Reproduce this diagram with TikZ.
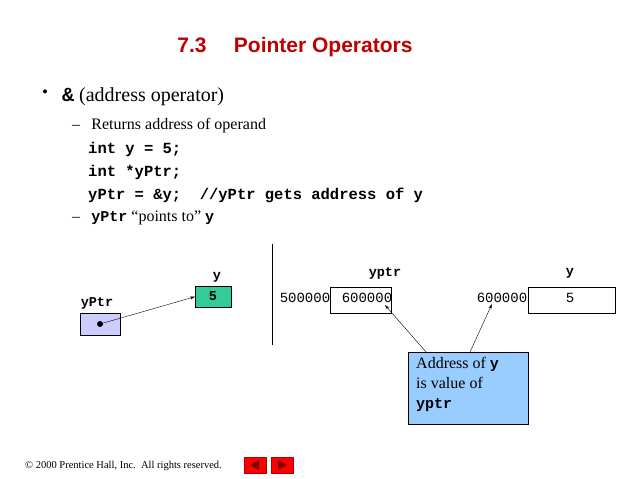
\documentclass[tikz,border=0pt]{standalone}
\usepackage{fontspec}
\usetikzlibrary{arrows.meta}
\setmainfont{Liberation Serif}
\setsansfont{Liberation Sans}
\setmonofont{Liberation Mono}
\begin{document}
\begin{tikzpicture}[x=1pt,y=-1pt,
  code/.style={anchor=west,inner sep=0,font=\ttfamily\bfseries\fontsize{15.5}{17}\selectfont},
  cell/.style={draw,anchor=north west,inner sep=0},
  lbl/.style={inner sep=0,font=\ttfamily\bfseries\fontsize{13.5}{15}\selectfont},
  num/.style={inner sep=0,font=\ttfamily\fontsize{14}{16}\selectfont},
  arr/.style={-{Stealth[length=5pt,width=3pt]},thin}]
\useasboundingbox (0,0) rectangle (638,479);
\fill[white] (0,0) rectangle (638,479);
\node[inner sep=0,text=red!75!black,font=\sffamily\bfseries\fontsize{21}{24}\selectfont] (title) at (295,47) {7.3\hspace{1.3em}Pointer Operators};
\node[inner sep=0,anchor=west,font=\fontsize{17}{20}\selectfont] (b1) at (42,94) {•};
\node[inner sep=0,anchor=west,font=\fontsize{20}{22}\selectfont] (t1) at (62,97) {{\ttfamily\bfseries\&} (address operator)};
\node[inner sep=0,anchor=west,font=\fontsize{16}{18}\selectfont] (t2) at (72,126) {–\hspace{0.7em}Returns address of operand};
\node[code] (c1) at (88,149) {int y = 5;};
\node[code] (c2) at (88,172) {int *yPtr;};
\node[code] (c3) at (88,195) {yPtr = \&y;\ \ //yPtr gets address of y};
\node[inner sep=0,anchor=west,font=\fontsize{16}{18}\selectfont] (t3) at (72,218) {–\hspace{0.7em}{\ttfamily\bfseries\fontsize{15}{17}\selectfont yPtr} “points to” {\ttfamily\bfseries\fontsize{15}{17}\selectfont y}};
% left diagram
\node[cell,fill={rgb,255:red,204;green,204;blue,255},minimum width=40pt,minimum height=22pt] (yp) at (80,313) {};
\node[lbl] (ypl) at (97,303) {yPtr};
\fill (100,324) circle (3pt);
\coordinate (dot) at (100,324);
\node[cell,fill={rgb,255:red,51;green,204;blue,153},minimum width=36pt,minimum height=21pt] (yb) at (195,286) {};
\node[num,font=\ttfamily\bfseries\fontsize{13.5}{15}\selectfont] (five) at (213,296) {5};
\node[lbl] (yl) at (217,277) {y};
\draw[arr] (dot) -- (yb.west);
\coordinate (v1) at (272,244); \coordinate (v2) at (272,345);
\draw (v1) -- (v2);
% right diagram
\node[num] (a1) at (305,298) {500000};
\node[cell,minimum width=61pt,minimum height=26pt] (pb) at (330,287) {};
\node[num] (pv) at (367,298) {600000};
\node[lbl] (pl) at (385,273) {yptr};
\node[num] (a2) at (502,298) {600000};
\node[cell,minimum width=87pt,minimum height=26pt] (vb) at (528,287) {};
\node[num] (vv) at (570,298) {5};
\node[lbl] (vl) at (570,273) {y};
\node[cell,fill={rgb,255:red,153;green,204;blue,255},minimum width=120pt,minimum height=72pt] (call) at (408,352) {};
\node[anchor=north west,inner sep=0,align=left,font=\fontsize{16}{20}\selectfont] (ct) at (416,357) {Address of {\ttfamily\bfseries\fontsize{15}{17}\selectfont y}\\is value of\\{\ttfamily\bfseries\fontsize{15}{17}\selectfont yptr}};
\coordinate (p1) at (426,352); \coordinate (q1) at (385,305);
\coordinate (p2) at (470,352); \coordinate (q2) at (492,304);
\draw[arr] (p1) -- (q1);
\draw[arr] (p2) -- (q2);
% footer
\node[anchor=west,inner sep=0,font=\fontsize{10.5}{12}\selectfont] (ft) at (25,466) {© 2000 Prentice Hall, Inc.\ \ All rights reserved.};
\node[draw=red!70!black,fill=red,minimum width=22pt,minimum height=16pt,inner sep=0] (bl) at (255,465) {};
\node[draw=red!70!black,fill=red,minimum width=22pt,minimum height=16pt,inner sep=0] (br) at (282,465) {};
\fill[red!50!black] (250,465) -- (259,460) -- (259,470) -- cycle;
\fill[red!50!black] (287,465) -- (278,460) -- (278,470) -- cycle;
\end{tikzpicture}
\end{document}
